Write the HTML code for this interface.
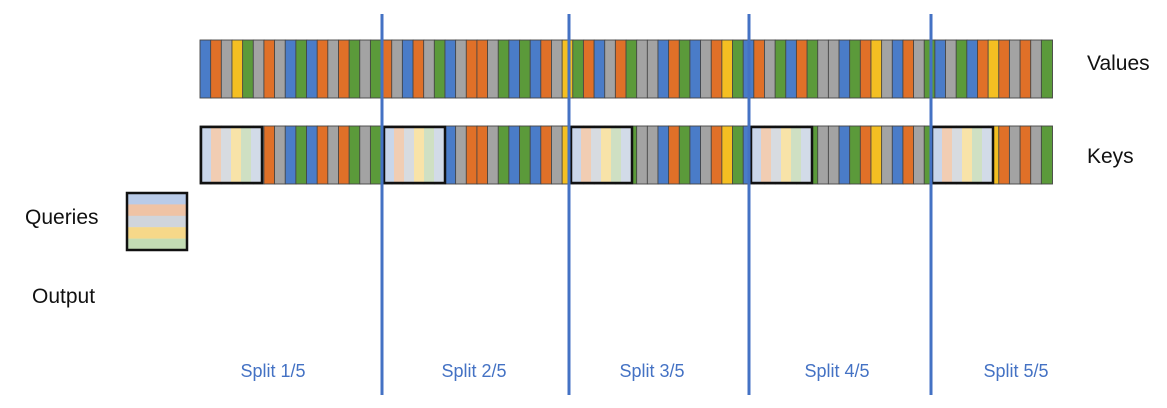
<!DOCTYPE html>
<html><head><style>
body{margin:0;width:1167px;height:408px;background:#fff;overflow:hidden;position:relative;font-family:"Liberation Sans",sans-serif}
.t{position:absolute;font-size:21px;color:#111}
.s{position:absolute;font-size:18px;color:#4472c4;top:361px;transform:translateX(-50%)}
</style></head><body>
<svg id="sv" width="1167" height="408" style="position:absolute;left:0;top:0"></svg>
<div class="t" style="left:1087px;top:52px">Values</div>
<div class="t" style="left:1087px;top:145px">Keys</div>
<div class="t" style="left:25px;top:206px">Queries</div>
<div class="t" style="left:32px;top:285px">Output</div>
<div class="s" style="left:273px">Split 1/5</div>
<div class="s" style="left:474px">Split 2/5</div>
<div class="s" style="left:652px">Split 3/5</div>
<div class="s" style="left:837px">Split 4/5</div>
<div class="s" style="left:1016px">Split 5/5</div>
<script>
var C={b:"#4a7cc8",o:"#e07028",g:"#a3a3a3",y:"#f4bf22",n:"#5b9a3a"};
var seq="bogyngogbnbogongnogbognbgoognbnbogynobgonggbonbgoynbognbonggbnoygbognbgnboyogognbgogb";
var x0=200,x1=1052,n=80,w=(x1-x0)/n,h="";
function bar(y,hh){for(var i=0;i<n;i++){var c=C[seq[i%seq.length]];h+='<rect x="'+(x0+i*w)+'" y="'+y+'" width="'+(w+0.5)+'" height="'+hh+'" fill="'+c+'" stroke="#444" stroke-width="0.9"/>';}}
bar(40,58);bar(126,58);
var pc=["#c9d6ea","#f1cdb3","#d7dbe0","#f8e3a8","#cfe0c3","#d2dbe8"];
var kx=[201,384,571,751,932];
kx.forEach(function(k){for(var j=0;j<6;j++)h+='<rect x="'+(k+j*10)+'" y="127" width="10.5" height="56" fill="'+pc[j]+'"/>';h+='<rect x="'+k+'" y="127" width="61" height="56" fill="none" stroke="#111" stroke-width="2.5"/>';});
var qc=["#b9cbe8","#efc3a5","#d0d5dc","#f6d889","#c3dcb4"];
for(var j=0;j<5;j++)h+='<rect x="127" y="'+(193+j*11.4)+'" width="60" height="11.6" fill="'+qc[j]+'"/>';
h+='<rect x="127" y="193" width="60" height="57" fill="none" stroke="#111" stroke-width="2.5"/>';
[382,569,749,931].forEach(function(v){h+='<rect x="'+(v-1.5)+'" y="14" width="3" height="381" fill="#4472c4"/>';});
document.getElementById("sv").innerHTML=h;
</script>
</body></html>
